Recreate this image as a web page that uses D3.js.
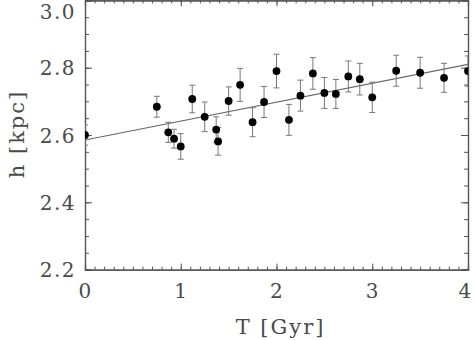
<!DOCTYPE html>
<html>
<head>
<meta charset="utf-8">
<script src="https://cdn.jsdelivr.net/npm/d3@7"></script>
<style>
  html, body { margin: 0; padding: 0; background: #fff; }
  svg { display: block; }
  text { font-family: "DejaVu Serif", serif; fill: #4a4a4a; }
</style>
</head>
<body>
<script>
// ---- data ----
const timeGyr = [0, 0.75, 0.87, 0.93, 1.0, 1.12, 1.25, 1.37, 1.39, 1.5, 1.62, 1.75, 1.87, 2.0,
                 2.13, 2.25, 2.38, 2.5, 2.62, 2.75, 2.87, 3.0, 3.25, 3.5, 3.75, 4.0];
const scaleHeight = [2.60, 2.684, 2.608, 2.589, 2.566, 2.707, 2.654, 2.616, 2.581, 2.701, 2.749, 2.638, 2.698, 2.79,
                     2.645, 2.717, 2.783, 2.725, 2.722, 2.774, 2.766, 2.712, 2.791, 2.785, 2.77, 2.79];
const heightErr = [0.03, 0.031, 0.030, 0.028, 0.038, 0.041, 0.044, 0.038, 0.041, 0.042, 0.049, 0.043, 0.046, 0.05,
                   0.046, 0.046, 0.047, 0.046, 0.043, 0.046, 0.047, 0.045, 0.046, 0.046, 0.043, 0.045];
const fitT = [0, 4];
const fitH = [2.585, 2.81];
const xTicks = [0, 1, 2, 3, 4];
const yTicks = [2.2, 2.4, 2.6, 2.8, 3.0];
const xLabel = "T [Gyr]";
const yLabel = "h [kpc]";

// ---- layout ----
const W = 474, H = 340;
const mLeft = 85, mRight = 468, mTop = 0.4, mBottom = 269.6;

const x = d3.scaleLinear().domain([0, 4]).range([mLeft, mRight]);
const y = d3.scaleLinear().domain([2.2, 3.0]).range([mBottom, mTop]);

const svg = d3.select("body").append("svg").attr("width", W).attr("height", H);

svg.append("defs").append("clipPath").attr("id", "plotclip")
  .append("rect").attr("x", mLeft).attr("y", 0).attr("width", mRight - mLeft).attr("height", mBottom);

const axisColor = "#555";

// minor ticks
const xMinor = d3.range(0, 4.0001, 0.1).map(v => +v.toFixed(2));
const yMinor = d3.range(2.2, 3.0001, 0.05).map(v => +v.toFixed(3));

// bottom axis
const gB = svg.append("g").attr("transform", `translate(0,${mBottom})`)
  .call(d3.axisBottom(x).tickValues(xMinor).tickSize(-3).tickFormat(""));
const gB2 = svg.append("g").attr("transform", `translate(0,${mBottom})`)
  .call(d3.axisBottom(x).tickValues(xTicks).tickSize(-6).tickFormat(d3.format("d")).tickPadding(14));
// top axis
const gT = svg.append("g").attr("transform", `translate(0,${mTop})`)
  .call(d3.axisTop(x).tickValues(xMinor).tickSize(-3).tickFormat(""));
const gT2 = svg.append("g").attr("transform", `translate(0,${mTop})`)
  .call(d3.axisTop(x).tickValues(xTicks).tickSize(-6).tickFormat(""));
// left axis
const gL = svg.append("g").attr("transform", `translate(${mLeft},0)`)
  .call(d3.axisLeft(y).tickValues(yMinor).tickSize(-4).tickFormat(""));
const gL2 = svg.append("g").attr("transform", `translate(${mLeft},0)`)
  .call(d3.axisLeft(y).tickValues(yTicks).tickSize(-7).tickFormat(d3.format(".1f")).tickPadding(9));
// right axis
const gR = svg.append("g").attr("transform", `translate(${mRight},0)`)
  .call(d3.axisRight(y).tickValues(yMinor).tickSize(-4).tickFormat(""));
const gR2 = svg.append("g").attr("transform", `translate(${mRight},0)`)
  .call(d3.axisRight(y).tickValues(yTicks).tickSize(-7).tickFormat(""));

[gB, gB2, gT, gT2, gL, gL2, gR, gR2].forEach(g => {
  g.selectAll(".domain").attr("stroke", axisColor).attr("stroke-width", 1.2);
  g.selectAll(".tick line").attr("stroke", axisColor).attr("stroke-width", 1);
  g.selectAll("text").attr("font-size", 20).attr("font-family", "DejaVu Serif").attr("fill", "#4a4a4a")
    .attr("letter-spacing", 1.5);
});
gB2.selectAll("text").attr("dy", "0.71em");
// keep the last x label inside the picture
gB2.selectAll("text").filter(d => d === 4).attr("dx", -3);
gL2.selectAll("text").attr("dy", "0.36em");
// keep the top y label inside the picture
gL2.selectAll("text").filter(d => d === 3.0).attr("dy", "0.9em");

// plot content
const plot = svg.append("g").attr("clip-path", "url(#plotclip)");

// fit line
plot.append("path")
  .datum(fitT.map((t, i) => [t, fitH[i]]))
  .attr("d", d3.line().x(d => x(d[0])).y(d => y(d[1])))
  .attr("fill", "none").attr("stroke", "#666").attr("stroke-width", 1.1);

const pts = timeGyr.map((t, i) => ({ t, h: scaleHeight[i], e: heightErr[i] }));

const eb = plot.append("g").attr("stroke", "#777").attr("stroke-width", 1);
eb.selectAll("line.v").data(pts).join("line").attr("class", "v")
  .attr("x1", d => x(d.t)).attr("x2", d => x(d.t))
  .attr("y1", d => y(d.h - d.e)).attr("y2", d => y(d.h + d.e));
eb.selectAll("line.top").data(pts).join("line").attr("class", "top")
  .attr("x1", d => x(d.t) - 3).attr("x2", d => x(d.t) + 3)
  .attr("y1", d => y(d.h + d.e)).attr("y2", d => y(d.h + d.e));
eb.selectAll("line.bot").data(pts).join("line").attr("class", "bot")
  .attr("x1", d => x(d.t) - 3).attr("x2", d => x(d.t) + 3)
  .attr("y1", d => y(d.h - d.e)).attr("y2", d => y(d.h - d.e));

plot.append("g").selectAll("circle").data(pts).join("circle")
  .attr("cx", d => x(d.t)).attr("cy", d => y(d.h)).attr("r", 3.9)
  .attr("fill", "#000");

// axis titles
svg.append("text").attr("x", (mLeft + mRight) / 2 + 4).attr("y", 334)
  .attr("text-anchor", "middle").attr("font-size", 21).attr("letter-spacing", 2)
  .text(xLabel);
svg.append("text")
  .attr("transform", `translate(24,${134}) rotate(-90)`)
  .attr("text-anchor", "middle").attr("font-size", 21).attr("letter-spacing", 2)
  .text(yLabel);
</script>
</body>
</html>
